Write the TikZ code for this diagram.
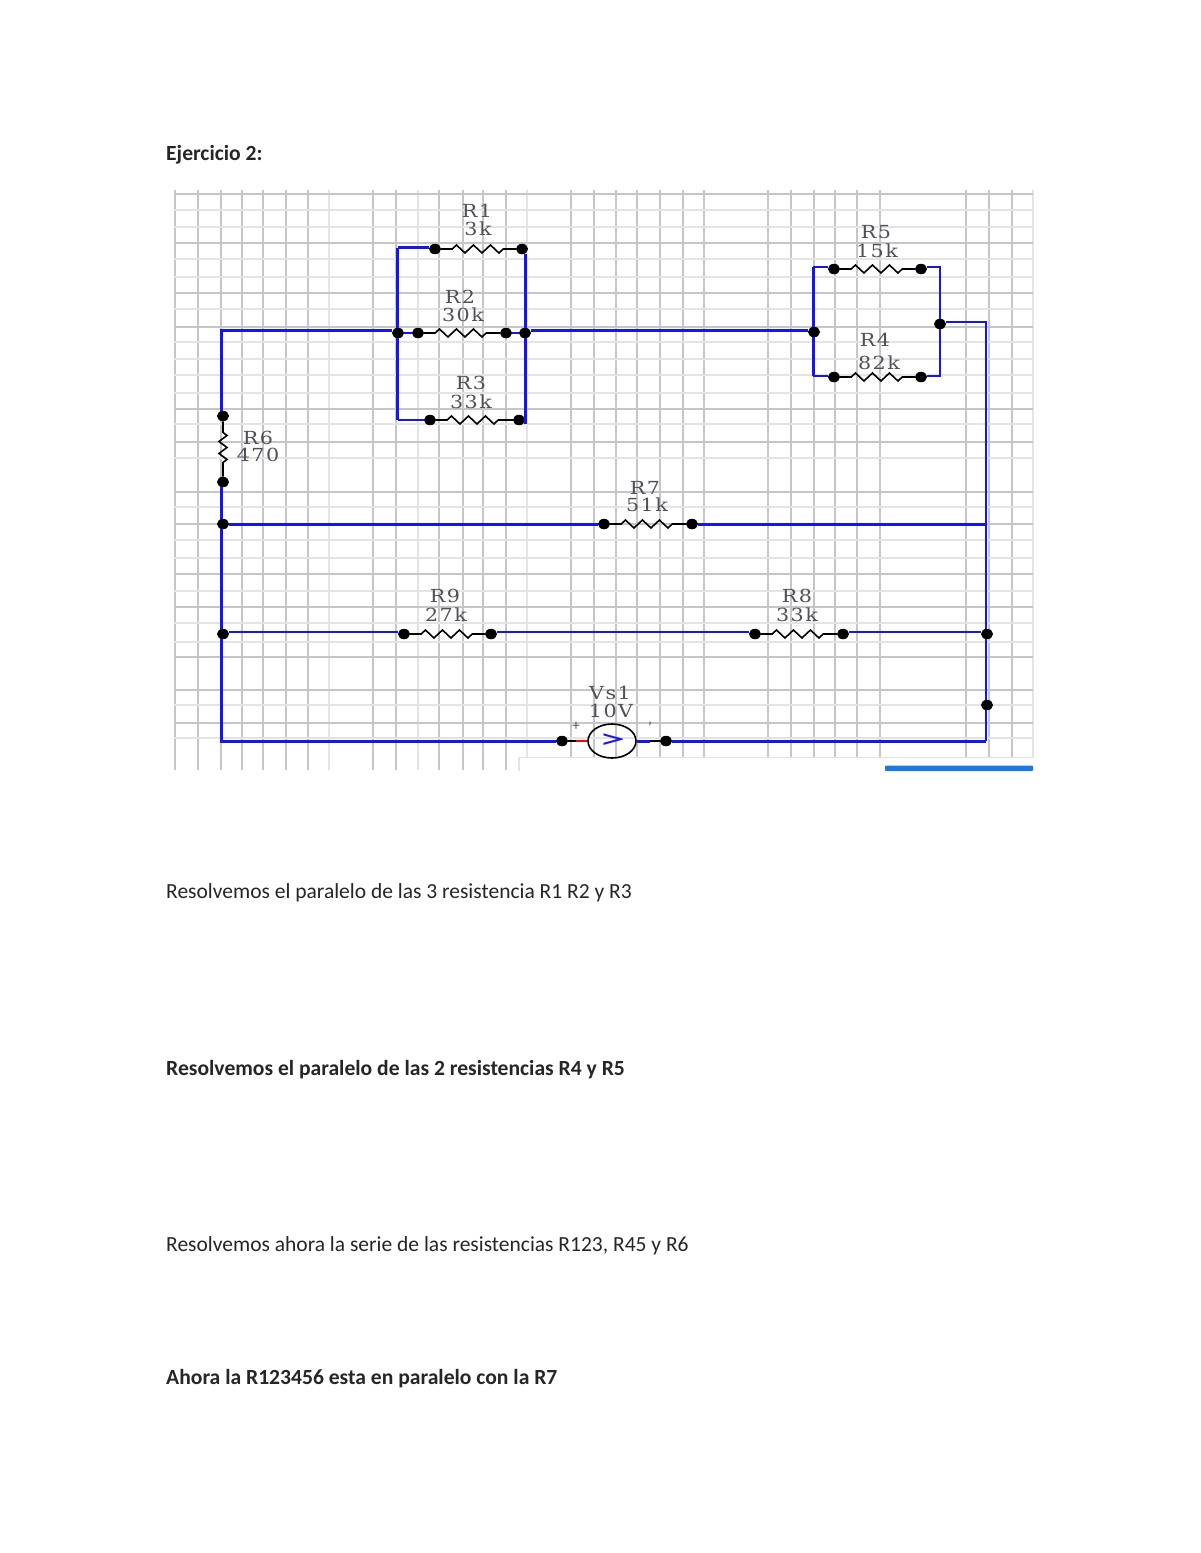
\documentclass[tikz,border=0pt]{standalone}
\usepackage{fontspec}
\usepackage{tikz}
\usetikzlibrary{shapes.geometric,decorations.pathmorphing}
\setmainfont{Carlito}
\newfontfamily\schemfont[LetterSpace=8,FakeStretch=1.15]{DejaVu Serif}
\newfontfamily\arrowfont[FakeStretch=1.9]{Carlito}
\definecolor{wirecc}{RGB}{22, 22, 235}
\definecolor{griddark}{RGB}{198, 198, 198}
\definecolor{gridlight}{RGB}{228, 228, 228}
\definecolor{labelcc}{RGB}{80, 80, 90}
\definecolor{barcc}{RGB}{30, 120, 225}
\tikzset{
  dot/.style={ellipse, minimum width=12pt, minimum height=10.5pt, inner sep=0pt, fill=black},
  wire/.style={line width=3pt, color=wirecc},
  thinwire/.style={line width=2.2pt, color=wirecc},
  resistor/.style={line width=1.6pt, color=black, decorate,
    decoration={zigzag, segment length=#1, amplitude=4pt, pre length=11pt, post length=10pt}},
  resistor/.default=17pt,
  schemlabel/.style={font=\schemfont\fontsize{18}{18}\selectfont, text=labelcc, inner sep=0pt},
  bodytext/.style={font=\fontsize{21.5}{24}\selectfont, text=black!85, anchor=base west, inner sep=0pt},
  boldtext/.style={bodytext, font=\fontsize{21.6}{24}\selectfont\bfseries},
}

\begin{document}
\begin{tikzpicture}[x=1pt, y=-1pt]
\useasboundingbox (0,0) rectangle (1200,1553);
\fill [white] (0,0) rectangle (1200,1553);
% grid
\foreach \gx in {175,198,221,242,263,286,308,373,396,439,463,483,506,571,594,616,637,660,683,704,768,791,814,835,857,880,966,989,1012}
  \draw [griddark, line width=1.2pt] (\gx,190) -- (\gx,770);
\foreach \gx in {329,418,527,1033}
  \draw [gridlight, line width=1.2pt] (\gx,190) -- (\gx,770);
\foreach \gy in {194,243,293,327,409,442,492,524,574,607,657,690,723}
  \draw [griddark, line width=1.2pt] (174,\gy) -- (1033,\gy);
\foreach \gy in {210,227,259,277,309,342,359,375,393,424,458,507,540,558,591,623,642,705,738}
  \draw [gridlight, line width=1.2pt] (174,\gy) -- (1033,\gy);
\fill [white] (519.7,757.5) rectangle (1040,775);
\draw [gridlight, line width=1.2pt] (519,771) -- (519,757.5) -- (1033,757.5);
\fill [barcc, rounded corners=1pt] (885,765.5) rectangle (1033,771);

\node (title) [boldtext] at (166,160) {Ejercicio 2:};
\node (text1) [bodytext] at (166,898) {Resolvemos el paralelo de las 3 resistencia R1 R2 y R3};
\node (text2) [boldtext] at (166,1075.5) {Resolvemos el paralelo de las 2 resistencias R4 y R5};
\node (text3) [bodytext] at (166,1251) {Resolvemos ahora la serie de las resistencias R123, R45 y R6};
\node (text4) [boldtext] at (166,1384.5) {Ahora la R123456 esta en paralelo con la R7};

\node (r1a) [dot] at (435,249) {};
\node (r1b) [dot] at (522,249) {};
\node (r2a) [dot] at (418,333) {};
\node (r2b) [dot] at (506,333) {};
\node (r3a) [dot] at (430,420) {};
\node (r3b) [dot] at (519,420) {};
\node (r4a) [dot] at (834,377) {};
\node (r4b) [dot] at (921,377) {};
\node (r5a) [dot] at (834,269) {};
\node (r5b) [dot] at (921,269) {};
\node (r6a) [dot] at (223,416) {};
\node (r6b) [dot] at (223,482) {};
\node (r7a) [dot] at (604,524) {};
\node (r7b) [dot] at (692,524) {};
\node (r8a) [dot] at (755,634) {};
\node (r8b) [dot] at (843,634) {};
\node (r9a) [dot] at (404,634) {};
\node (r9b) [dot] at (491,634) {};
\node (n1) [dot] at (398,333) {};
\node (n2) [dot] at (525,333) {};
\node (n3) [dot] at (814,332) {};
\node (n4) [dot] at (940,324) {};
\node (n5) [dot] at (223,524) {};
\node (n6) [dot] at (223,634) {};
\node (n7) [dot] at (987,634) {};
\node (n8) [dot] at (987,705) {};
\node (vsa) [dot] at (562,741) {};
\node (vsb) [dot] at (666,741) {};
\node (vs1) [ellipse, minimum width=48pt, minimum height=34pt, inner sep=0pt, draw=black, line width=1.6pt, text=wirecc, font=\arrowfont\fontsize{28}{28}\selectfont] at (612,741) {>};

\coordinate (c1) at (221,330);
\coordinate (c2) at (397.5,247.5);
\coordinate (c3) at (397.5,420);
\coordinate (c4) at (525,247.5);
\coordinate (c5) at (525,424);
\coordinate (c6) at (813,267);
\coordinate (c7) at (813,376);
\coordinate (c8) at (940,267);
\coordinate (c9) at (940,376);
\coordinate (c10) at (986,322);
\coordinate (c11) at (221,741);
\coordinate (c12) at (986,741);
\coordinate (c13) at (986,524);
\coordinate (tp) at (576,741);
\coordinate (tm) at (650,741);

\draw [wire] (c1 |- r6a.north) -- (c1) -- (c1 -| n1.west);
\draw [wire] (n2.east |- c1) -- (n3.west |- c1);
\draw [wire] (c2 |- n1.north) -- (c2);
\draw [thinwire] (c2) -- (c2 -| r1a.west);
\draw [wire] (c3 |- n1.south) -- (c3);
\draw [thinwire] (c3) -- (r3a);
\draw [wire] (c4 |- r1b.south) -- (c4 |- n2.north);
\draw [wire] (c5 |- n2.south) -- (c5);
\draw [thinwire] (n1) -- (r2a);
\draw [thinwire] (r2b) -- (n2);
\draw [wire] (c6 |- n3.north) -- (c6);
\draw [thinwire] (c6) -- (c6 -| r5a.west);
\draw [wire] (c7 |- n3.south) -- (c7);
\draw [thinwire] (c7) -- (c7 -| r4a.west);
\draw [thinwire] (c8 -| r5b.east) -- (c8) -- (c8 |- n4.north);
\draw [thinwire] (c9 -| r4b.east) -- (c9) -- (c9 |- n4.south);
\draw [thinwire] (n4.east |- c10) -- (c10) -- (c10 |- n7.north);
\draw [thinwire] (c10 |- n7.south) -- (c10 |- n8.north);
\draw [thinwire] (c10 |- n8.south) -- (c12);
\draw [wire] (c1 |- r6b.south) -- (c1 |- n5.north);
\draw [wire] (c1 |- n5.south) -- (c1 |- n6.north);
\draw [wire] (c1 |- n6.south) -- (c11) -- (vsa);
\draw [wire] (n5) -- (r7a);
\draw [wire] (r7b) -- (c13);
\draw [thinwire] (n6.20) -- (r9a.160);
\draw [thinwire] (r9b.20) -- (r8a.160);
\draw [thinwire] (r8b.20) -- (n7.160);
\draw [wire] (vsb) -- (c12);
\draw [wire] (vs1) -- (tm);
\draw [line width=1.6pt, color=black] (vsa) -- (tp);
\draw [line width=2pt, color=red] (tp) -- (vs1);
\draw [line width=1.6pt, color=black] (tm) -- (vsb);

\draw [resistor] (r1a) -- (r1b);
\draw [resistor] (r2a) -- (r2b);
\draw [resistor] (r3a) -- (r3b);
\draw [resistor] (r4a) -- (r4b);
\draw [resistor] (r5a) -- (r5b);
\draw [resistor=12pt] (r6a) -- (r6b);
\draw [resistor] (r7a) -- (r7b);
\draw [resistor] (r8a) -- (r8b);
\draw [resistor] (r9a) -- (r9b);

\node (lr1) [schemlabel] at (477,211) {R1};
\node (lv1) [schemlabel] at (478,229) {3k};
\node (lr2) [schemlabel] at (460,297) {R2};
\node (lv2) [schemlabel] at (463,315) {30k};
\node (lr3) [schemlabel] at (471,383) {R3};
\node (lv3) [schemlabel] at (471,402) {33k};
\node (lr5) [schemlabel] at (876,232) {R5};
\node (lv5) [schemlabel] at (877,251) {15k};
\node (lr4) [schemlabel] at (875,340) {R4};
\node (lv4) [schemlabel] at (879,363) {82k};
\node (lr6) [schemlabel] at (258,438) {R6};
\node (lv6) [schemlabel] at (258,455) {470};
\node (lr7) [schemlabel] at (645,488) {R7};
\node (lv7) [schemlabel] at (647,505) {51k};
\node (lr9) [schemlabel] at (445,596) {R9};
\node (lv9) [schemlabel] at (446,615) {27k};
\node (lr8) [schemlabel] at (797,596) {R8};
\node (lv8) [schemlabel] at (797,615) {33k};
\node (lvs) [schemlabel] at (610,693) {Vs1};
\node (lvv) [schemlabel] at (611,711) {10V};
\node (lplus) [schemlabel, font=\fontsize{15}{15}\selectfont] at (576,726) {+};
\node (lminus) [schemlabel, font=\fontsize{15}{15}\selectfont] at (650,727) {'};
\end{tikzpicture}
\end{document}
